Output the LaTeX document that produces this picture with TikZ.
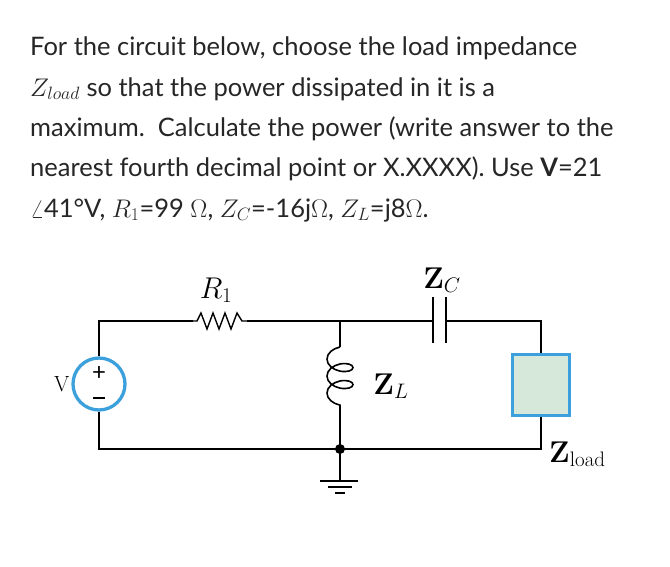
\RequirePackage{fix-cm}
\documentclass[tikz,border=0pt]{standalone}
\usepackage[no-math]{fontspec}
\setmainfont{Lato}
\usetikzlibrary{decorations.pathmorphing}
\definecolor{srcblue}{RGB}{60,160,220}
\definecolor{loadfill}{RGB}{214,232,218}
\tikzset{
  wire/.style={line width=1.6pt,black},
  txt/.style={anchor=base west,inner sep=0pt,font=\fontsize{25.5}{30}\selectfont,text=black!85},
  lbl/.style={inner sep=0pt,font=\fontsize{30}{34}\selectfont}
}
\begin{document}
\begin{tikzpicture}[x=1pt,y=-1pt]
  \useasboundingbox (0,0) rectangle (670,566);
  % question text
  \node[txt] (l1) at (30,55) {For the circuit below, choose the load impedance};
  \node[txt] (l2) at (30,96) {$Z_{load}$ so that the power dissipated in it is a};
  \node[txt] (l3) at (30,136) {maximum.\ \ Calculate the power (write answer to the};
  \node[txt] (l4) at (30,176) {nearest fourth decimal point or X.XXXX). Use \textbf{V}=21};
  \node[txt] (l5) at (30,217) {$\angle$41\textdegree V, $R_1$=99 $\Omega$, $Z_C$=-16j$\Omega$, $Z_L$=j8$\Omega$.};
  % circuit corners
  \coordinate (tl) at (99,321);
  \coordinate (bl) at (99,449);
  \coordinate (tr) at (541,321);
  \coordinate (br) at (541,449);
  \coordinate (tj) at (340,321);
  \coordinate (bj) at (340,449);
  % source
  \node[circle,draw=srcblue,line width=3.3pt,minimum size=52pt,inner sep=0pt] (src) at (99,384) {};
  \node[font=\fontsize{24}{24}\selectfont,inner sep=0pt] at (99,373) {+};
  \draw[line width=1.4pt] (93,398) -- (105,398);
  \node[lbl,font=\fontsize{22}{22}\selectfont] (vl) at (62,384) {$\mathrm{V}$};
  \draw[wire] (src.north) -- (tl) -- (193,321);
  \draw[wire] (src.south) -- (bl) -- (br) -- (541,415);
  % resistor
  \draw[wire,line width=1.4pt] (193,321) -- (197,321) -- (201,313) -- (207,329) -- (213,313) -- (219,329) -- (225,313) -- (231,329) -- (237,313) -- (242,321) -- (247,321);
  \node[lbl] (r1) at (216,290) {$R_1$};
  \draw[wire] (247,321) -- (433,321);
  % capacitor
  \draw[wire] (433,297) -- (433,343);
  \draw[wire] (446,297) -- (446,343);
  \draw[wire] (446,321) -- (tr) -- (541,354);
  \node[lbl] (zc) at (442,280) {$\mathbf{Z}_C$};
  % inductor
  \draw[wire] (tj) -- (340,347);
  \draw[wire,decoration={coil,aspect=0.6,segment length=17pt,amplitude=13pt,mirror},decorate] (340,347) -- (340,420);
  \draw[wire] (340,420) -- (bj);
  \node[lbl] (zl) at (391,386) {$\mathbf{Z}_L$};
  \fill (bj) circle (5pt);
  % ground
  \draw[wire] (bj) -- (340,481);
  \draw[line width=1.5pt] (320,481) -- (358,481);
  \draw[line width=1.5pt] (328,487) -- (352,487);
  \draw[line width=1.5pt] (335,493) -- (345,493);
  % load
  \node[draw=srcblue,fill=loadfill,line width=3.3pt,minimum width=57pt,minimum height=61pt,inner sep=0pt] (load) at (541,385) {};
  \node[lbl,anchor=base west] (zload) at (549,462) {$\mathbf{Z}_{\mathrm{load}}$};
\end{tikzpicture}
\end{document}
